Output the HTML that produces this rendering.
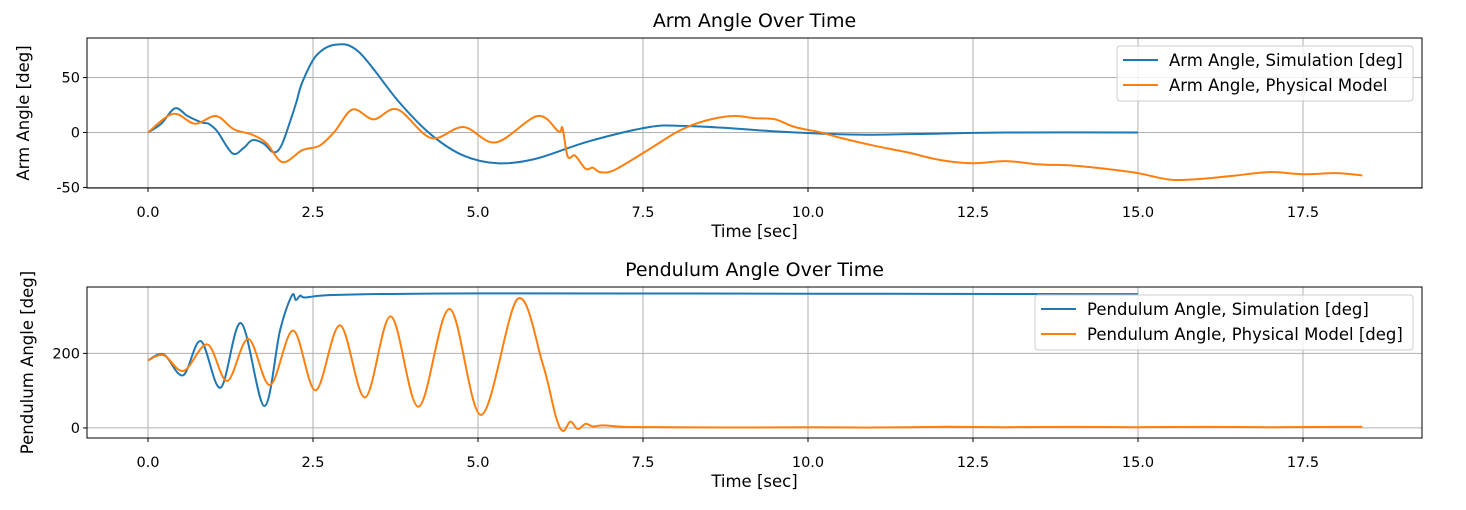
<!DOCTYPE html>
<html><head><meta charset="utf-8"><style>
body{margin:0;background:#fff;font-family:"Liberation Sans","DejaVu Sans",sans-serif}
svg text{font-family:"DejaVu Sans","Liberation Sans",sans-serif;fill:#000}
</style></head><body>
<svg id="chart" width="1466" height="505" xmlns="http://www.w3.org/2000/svg">
<g id="p1"></g>
<g id="p2"></g>
</svg>
<script>
const armSimT=[0,0.2,0.41,0.6,0.82,0.92,1.05,1.28,1.45,1.58,1.75,1.9,2.02,2.17,2.25,2.34,2.55,2.85,3.2,3.8,4.29,4.78,5.3,5.87,6.68,7.6,8.1,8.8,9.5,10.2,10.9,12,13,15];
const armSimV=[0,8,22,15,9,8,1,-19,-14,-7,-10,-18,-12,13,28,46,70,80,73,28,-2,-21,-28,-24,-8,5,6,4,1,-1,-2,-1,0,0];
const armPhyT=[0,0.38,0.71,1.03,1.3,1.58,1.8,2.04,2.34,2.6,2.83,3.1,3.42,3.78,4.29,4.78,5.27,5.9,6.22,6.28,6.36,6.47,6.63,6.74,6.85,7.07,7.6,8.0,8.3,8.6,8.9,9.2,9.5,9.8,10.2,10.5,11,11.5,12,12.5,13,13.5,14,14.5,15,15.5,16,16.5,17,17.5,18,18.4];
const armPhyV=[0,17,8,15,3,-2,-10,-27,-16,-12,1,21,12,21,-5,5,-9,15,1,4,-22,-21,-33,-32,-36,-34,-15,0,8,13,15,13,12,5,0,-5,-12,-18,-25,-28,-26,-29,-30,-33,-37,-43,-42,-39,-36,-38,-37,-39];
const penSimT=[0,0.24,0.53,0.8,1.1,1.41,1.76,2.0,2.18,2.24,2.31,2.39,2.88,5.05,10,15];
const penSimV=[181,197,141,233,108,281,59,261,355,343,355,350,357,361,360,359];
const penPhyT=[0,0.24,0.54,0.9,1.2,1.52,1.85,2.2,2.54,2.91,3.29,3.68,4.1,4.57,5.05,5.6,5.98,6.18,6.29,6.4,6.51,6.63,6.74,6.9,7.23,8,9,10,11,12,13,14,15,16,17,18,18.4];
const penPhyV=[181,195,153,224,126,239,115,261,101,275,82,299,57,319,35,346,172,30,-8,17,-3,11,4,7,3,2,1,2,1,3,2,3,2,3,2,3,3];
const xTicks=[0,2.5,5,7.5,10,12.5,15,17.5];
const armYTicks=[-50,0,50];
const penYTicks=[0,200];

const NS='http://www.w3.org/2000/svg';
function mk(p,tag,at){const e=document.createElementNS(NS,tag);for(const k in at)e.setAttribute(k,at[k]);p.appendChild(e);return e;}
function panel(g,cfg){
  const L=87,R=1422,T=cfg.top,B=cfg.bot;
  const xs=t=>L+(t-(-0.924))/(19.303+0.924)*(R-L);
  const ys=v=>B-(v-cfg.ymin)/(cfg.ymax-cfg.ymin)*(B-T);
  const grid=mk(g,'g',{});
  
  
  xTicks.forEach(t=>{const x=xs(t);
    mk(grid,'line',{x1:x,x2:x,y1:T,y2:B,stroke:'#b0b0b0','stroke-width':1});
    mk(g,'line',{x1:x,x2:x,y1:B,y2:B+4,stroke:'#000'});
    const tx=mk(g,'text',{x:x,y:B+29,'font-size':14.5,'text-anchor':'middle'});tx.textContent=t.toFixed(1);
    
    
  });
  cfg.yt.forEach(v=>{const y=ys(v);
    mk(grid,'line',{x1:L,x2:R,y1:y,y2:y,stroke:'#b0b0b0','stroke-width':1});
    mk(g,'line',{x1:L-4,x2:L,y1:y,y2:y,stroke:'#000'});
    const tx=mk(g,'text',{x:L-7,y:y+5,'font-size':14.5,'text-anchor':'end'});tx.textContent=v;
    
    
  });
  function curve(T_,V,col,name){
    const P=T_.map((t,i)=>[xs(t),ys(V[i])]);
    let d='M'+P[0][0]+','+P[0][1];
    for(let i=0;i<P.length-1;i++){const p0=P[Math.max(0,i-1)],p1=P[i],p2=P[i+1],p3=P[Math.min(P.length-1,i+2)];
      const c1=[p1[0]+(p2[0]-p0[0])/6,p1[1]+(p2[1]-p0[1])/6],c2=[p2[0]-(p3[0]-p1[0])/6,p2[1]-(p3[1]-p1[1])/6];
      d+=`C${c1[0]},${c1[1]} ${c2[0]},${c2[1]} ${p2[0]},${p2[1]}`;}
    const e=mk(g,'path',{d:d,fill:'none',stroke:col,'stroke-width':2});
    
    
  }
  curve(cfg.sT,cfg.sV,'#1f77b4',cfg.n+'-simulation-line');
  curve(cfg.pT,cfg.pV,'#ff7f0e',cfg.n+'-physical-line');
  mk(g,'rect',{x:L,y:T,width:R-L,height:B-T,fill:'none',stroke:'#000','stroke-width':1});
  let t=mk(g,'text',{x:(L+R)/2,y:T-11,'font-size':19,'text-anchor':'middle'});t.textContent=cfg.title;
  
  t=mk(g,'text',{x:(L+R)/2,y:B+49,'font-size':16.5,'text-anchor':'middle'});t.textContent='Time [sec]';
  
  t=mk(g,'text',{x:0,y:0,'font-size':16.5,'text-anchor':'middle',transform:`translate(${cfg.ylx},${(T+B)/2}) rotate(-90)`});t.textContent=cfg.ylab;
  
  const lg=mk(g,'g',{});
  
  mk(lg,'rect',{x:cfg.lx,y:T+8,width:1413-cfg.lx,height:55,rx:3,fill:'#fff','fill-opacity':0.8,stroke:'#ccc'});
  cfg.leg.forEach((s,i)=>{const y=T+22+i*25;
    mk(lg,'line',{x1:cfg.lx+6,x2:cfg.lx+41,y1:y,y2:y,stroke:i?'#ff7f0e':'#1f77b4','stroke-width':2});
    const tx=mk(lg,'text',{x:cfg.lx+52,y:y+6,'font-size':16.5});tx.textContent=s;
    
  });
}
panel(document.getElementById('p1'),{top:38,bot:188,ymin:-50.5,ymax:86,yt:armYTicks,sT:armSimT,sV:armSimV,pT:armPhyT,pV:armPhyV,n:'arm',title:'Arm Angle Over Time',ylab:'Arm Angle [deg]',ylx:29,lx:1117,leg:['Arm Angle, Simulation [deg]','Arm Angle, Physical Model']});
panel(document.getElementById('p2'),{top:287,bot:438,ymin:-27,ymax:378,yt:penYTicks,sT:penSimT,sV:penSimV,pT:penPhyT,pV:penPhyV,n:'pendulum',title:'Pendulum Angle Over Time',ylab:'Pendulum Angle [deg]',ylx:33,lx:1035,leg:['Pendulum Angle, Simulation [deg]','Pendulum Angle, Physical Model [deg]']});
</script>
</body></html>
